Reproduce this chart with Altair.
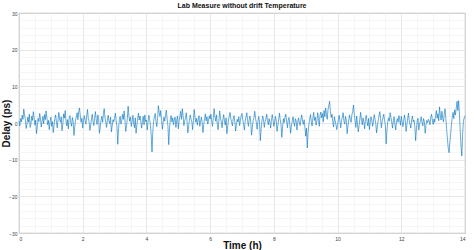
import altair as alt
import pandas as pd

h00 = [0.5, -0.8, 1.2, 0.3, 2.1, 1.0, 3.8, 2.2, 0.9, -1.5, -0.4, 1.6, 0.2, 2.4, -1.2, -0.3, 1.9, 0.7, 3.1, 1.4,
       -0.6, 0.8, -2.9, -0.9, 1.3, 0.4, 2.6, 1.1, -1.1, 0.6, 1.8, -0.2, 2.3, 0.9, 3.3, 1.5, -0.5, 0.7, -1.8, 0.3]
h01 = [1.6, -0.9, 0.4, -2.6, -0.7, 1.2, 2.2, 0.3, -1.3, 0.8, 2.9, 1.1, 0.2, 1.7, -2.1, -0.4, 2.5, 1.3, 3.4, 0.6,
       -0.8, 0.9, -1.6, 1.4, 2.0, 0.1, -0.9, 1.5, 0.4, -3.4, -1.0, 0.8, 1.7, 2.8, 0.9, 3.2, 4.1, 1.8, 0.2, 1.3]
h02 = [-1.4, 0.6, 2.0, 0.7, -0.3, 1.9, 3.7, 1.2, 0.4, -2.0, -0.6, 1.1, 2.4, 0.3, -0.7, 1.5, 3.1, 0.8, -0.4, 2.2,
       0.9, -2.8, -1.1, 0.7, 1.8, 0.2, 2.6, 3.9, 1.4, 0.1, -1.2, 0.8, 2.1, 0.5, -0.2, 1.6, -2.4, -0.8, 0.9, 0.3]
h03 = [1.3, 2.7, 0.6, -1.0, -5.8, -1.6, 0.9, 1.8, -0.3, 0.7, 2.4, 1.0, 3.3, 0.8, -2.3, -0.7, 1.2, 4.6, 2.0, 0.5,
       1.6, -0.9, 0.4, 2.1, 0.0, -1.3, 1.4, -2.8, -0.6, 1.1, 2.7, 0.8, 1.9, 0.2, -1.4, 0.6, 1.8, -0.5, 2.2, 0.4]
h04 = [0.8, -1.9, 0.3, 2.1, 1.0, -0.6, -3.2, -7.9, -2.4, 0.5, 1.7, 2.6, 0.4, -1.0, 1.3, 4.7, 2.9, 1.8, 3.4, 0.7,
       -1.7, 0.2, 1.6, 0.5, 2.3, 3.5, 1.1, -0.8, -5.9, -1.5, 0.9, 2.0, 0.3, 1.4, -0.5, 0.8, 1.6, -1.2, 0.7, 1.9]
h05 = [-1.6, 0.4, 1.9, 3.2, 1.0, 3.9, 2.1, -0.7, 0.5, 1.4, 2.8, 0.6, -2.7, -0.8, 0.7, 2.2, 1.1, 0.3, -1.8, 0.6,
       3.7, 1.5, 0.2, 1.3, -0.6, 0.9, 2.0, -0.9, 0.4, 1.6, 0.1, -2.6, -0.4, 1.2, 2.5, 0.6, 1.7, -0.3, 0.8, 2.0]
h06 = [1.1, 2.4, 0.3, -0.9, 1.5, 3.9, 1.7, 0.5, 2.2, -0.4, -1.8, 0.6, 3.3, 1.2, 0.4, -1.3, 1.0, 2.3, 0.5, -0.6,
       1.4, -2.9, -0.9, 0.8, 1.9, 2.9, 1.1, 0.2, -0.8, 1.3, 2.0, 0.4, -2.2, -0.5, 1.0, 0.3, 1.7, -0.7, 0.6, 2.1]
h07 = [2.6, 0.9, -0.4, -1.9, 0.5, 1.6, 2.8, 0.7, -0.9, 0.8, 1.9, 0.2, -3.3, -1.1, 0.6, 1.5, 3.2, 1.3, 0.1, -1.7,
       0.4, 1.8, 0.3, -4.8, -1.6, 0.5, 1.9, 0.9, -1.2, 0.4, 1.1, 2.4, 0.6, -0.5, 1.2, 0.2, -1.4, 0.9, 2.3, 0.8]
h08 = [-0.9, 0.3, 1.8, 0.6, -2.3, -0.6, 0.9, 2.7, 1.0, -0.4, -3.9, -1.0, 1.2, 0.1, 1.6, 2.4, 0.5, -1.3, 0.7, 1.5,
       -0.3, -2.8, -0.8, 0.4, 1.7, 0.2, -0.9, 1.2, 0.6, -1.9, 0.3, 1.4, 0.0, -0.7, 1.1, 2.2, 0.5, -0.4, 0.9, -1.2]
h09 = [-3.6, -1.4, -6.8, -2.5, -0.3, 1.1, 2.3, 0.4, -0.8, 1.3, 2.9, 0.7, 1.6, -0.6, 0.5, 2.8, 1.2, -0.9, 2.1, 3.0,
       1.4, 2.6, 0.3, 3.4, 1.7, 4.1, 2.5, 1.0, 3.6, 4.8, 5.9, 3.2, 1.5, 2.4, 0.3, -1.1, 1.7, 0.6, -0.5, -1.8]
h10 = [-0.6, 0.9, 2.1, 0.4, -1.3, 0.7, 1.6, 2.8, 0.5, -0.3, 1.8, 0.6, -2.9, -1.0, 0.8, 2.2, 1.0, 0.2, 2.3, 3.1,
       4.9, 2.3, 0.6, -1.2, 1.9, -0.4, -2.4, -0.7, 1.1, 2.9, 0.8, -0.5, 1.4, 0.3, -1.6, 0.9, 2.1, 0.4, -0.8, 1.3]
h11 = [-1.8, 0.2, 1.7, 0.8, -0.9, 0.4, 2.3, 1.0, -0.2, -2.7, -0.8, 0.6, 1.9, 3.1, 1.2, -1.3, 0.4, 1.5, 2.4, 0.7,
       -0.6, -5.7, -2.0, 0.3, 1.4, 0.5, 2.8, 1.6, 0.3, -1.4, 0.6, 1.7, -0.3, -1.9, 0.4, 1.2, 0.2, 2.0, 0.9, -0.6]
h12 = [1.8, 0.4, -1.0, 0.5, 2.2, 0.8, -2.3, -0.5, 1.1, 2.7, 0.6, -0.4, -1.4, 0.9, 1.9, 0.3, 0.8, -0.9, -4.8, -1.7,
       0.6, 1.3, -1.9, -0.3, 0.5, 1.7, 0.2, -0.8, 1.2, 0.4, -2.8, -0.6, 0.7, 0.1, 1.0, 0.6, -0.5, 1.5, 2.4, 0.8]
h13 = [-0.4, 1.1, 0.2, 2.0, 3.4, 1.3, 2.5, 0.6, 4.4, 2.1, 0.8, 3.2, 1.4, 0.3, 2.6, 3.9, 1.1, -1.8, -4.6, -6.9,
       -8.1, -5.2, -3.0, -0.4, 1.6, 2.9, 1.2, 3.6, 2.2, 4.0, 5.9, 3.4, 6.1, 2.7, -2.4, -6.3, -9.0, -3.1, 0.6, 1.4]
tail = [2.0]

delay = h00 + h01 + h02 + h03 + h04 + h05 + h06 + h07 + h08 + h09 + h10 + h11 + h12 + h13 + tail
step_h = 0.025
time_h = [round(i * step_h, 3) for i in range(len(delay))]

x_ticks = [i * 0.5 for i in range(29)]        # 0 .. 14, labels every 2
y_ticks = [-30 + 2 * i for i in range(31)]    # -30 .. 30, labels every 10

df = pd.DataFrame({"t": time_h, "d": delay})

font = "Liberation Sans"

x_axis = alt.Axis(
    values=x_ticks,
    labelExpr="datum.value % 2 === 0 ? format(datum.value, 'd') : ''",
    labelFontSize=5, labelColor="#444", labelFont=font, labelPadding=3,
    tickSize=0, domain=False,
    gridColor={"condition": {"test": "datum.value % 2 === 0", "value": "#dddddd"}, "value": "#f0f0f0"},
    gridWidth=0.7,
    title="Time (h)", titleFont=font, titleFontSize=10, titleFontWeight="bold",
    titleColor="#111", titleBaseline="middle", titleY=12,
)
y_axis = alt.Axis(
    values=y_ticks,
    labelExpr="datum.value % 10 === 0 ? format(datum.value, 'd') : ''",
    labelFontSize=5, labelColor="#444", labelFont=font, labelPadding=2,
    tickSize=0, domain=False,
    gridColor={"condition": {"test": "datum.value % 10 === 0", "value": "#dddddd"}, "value": "#f0f0f0"},
    gridWidth=0.7,
    title="Delay (ps)", titleFont=font, titleFontSize=10, titleFontWeight="bold",
    titleColor="#111", titleAngle=270, titleBaseline="middle", titleAlign="center",
    titleX=-13, titleY=110,
)

chart = (
    alt.Chart(df)
    .mark_line(color="#0072BD", strokeWidth=0.6)
    .encode(
        x=alt.X("t:Q", scale=alt.Scale(domain=[0, 14], nice=False, zero=False), axis=x_axis),
        y=alt.Y("d:Q", scale=alt.Scale(domain=[-30, 30], nice=False), axis=y_axis),
    )
    .properties(
        width=446, height=220,
        autosize="none",
        padding={"left": 19, "top": 13, "right": 9, "bottom": 17},
        title=alt.TitleParams(
            "Lab Measure without drift Temperature",
            font=font, fontSize=7, fontWeight="bold", color="#111",
            anchor="middle", offset=2,
        ),
        background="white",
    )
    .configure_view(stroke="#999999", strokeWidth=0.8)
)

chart.save("out.html", embed_options={"renderer": "svg", "actions": False})
